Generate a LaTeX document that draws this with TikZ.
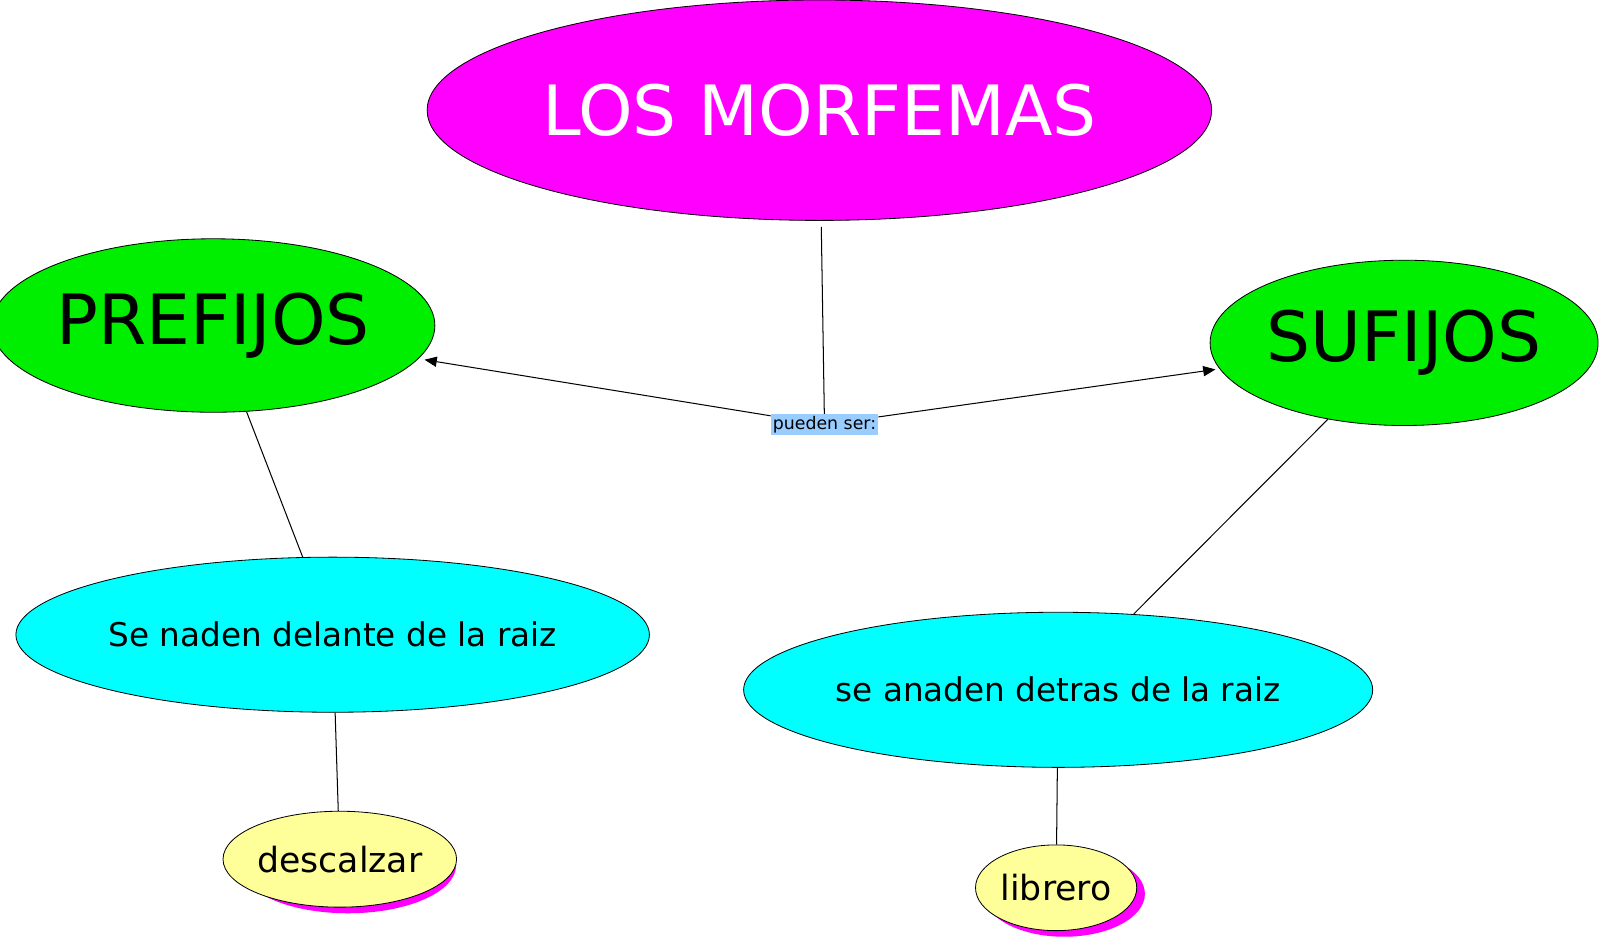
\documentclass[tikz,border=0pt]{standalone}
\usepackage{fontspec}
\setmainfont{DejaVu Sans}
\usetikzlibrary{shapes.geometric,arrows.meta}
\definecolor{mag}{HTML}{FF00FF}
\definecolor{grn}{HTML}{00EE00}
\definecolor{cyn}{HTML}{00FFFF}
\definecolor{yel}{HTML}{FFFF99}
\definecolor{lbl}{HTML}{99CCFF}
\tikzset{
 ell/.style={ellipse,draw=black,line width=0.8pt,inner sep=0pt},
 fs/.style={font=\fontsize{#1}{#1}\selectfont},
 con/.style={line width=1pt},
 arr/.style={line width=1pt,-{Triangle[length=12pt,width=10pt]}},
}
\begin{document}
\begin{tikzpicture}[x=1pt,y=-1pt]
\useasboundingbox[fill=white] (0,0) rectangle (1568,921);
\node[ell,fill=mag,text=white,minimum width=664,minimum height=216,fs=68] (morf) at (803,108) {LOS MORFEMAS};
\node[ell,fill=grn,minimum width=416,minimum height=170,fs=68] (pre) at (209,319) {PREFIJOS};
\node[ell,fill=grn,minimum width=378,minimum height=162,fs=68] (suf) at (1376,336) {SUFIJOS};
\node[ell,fill=cyn,minimum width=554,minimum height=152,fs=32] (del) at (326,622) {Se naden delante de la raiz};
\node[ell,fill=cyn,minimum width=548,minimum height=152,fs=32] (det) at (1037,676) {se anaden detras de la raiz};
\fill[mag] (341,848) ellipse [x radius=106,y radius=47];
\node[ell,fill=yel,minimum width=212,minimum height=94,fs=34] (desc) at (333,842) {descalzar};
\fill[mag] (1043,876) ellipse [x radius=79,y radius=42];
\node[ell,fill=yel,minimum width=158,minimum height=84,fs=34] (lib) at (1035,870) {librero};
\node[fill=lbl,inner sep=2pt,fs=17] (ps) at (808,416) {pueden ser:};
\draw[con,shorten <=6pt] (morf) -- (ps);
\draw[arr,shorten >=6pt] (ps) -- (pre);
\draw[arr,shorten >=4pt] (ps) -- (suf);
\draw[con] (pre) -- (del);
\draw[con] (suf.south west) ++(40,-10) coordinate (s1);
\draw[con] (suf) -- (det);
\draw[con] (del) -- (desc);
\draw[con] (det) -- (lib);
\end{tikzpicture}
\end{document}
